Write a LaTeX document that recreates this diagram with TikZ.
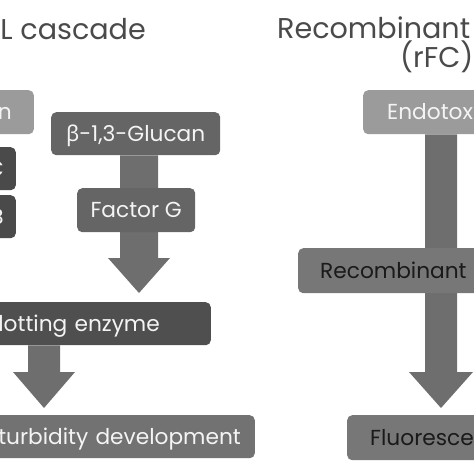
\documentclass[tikz,border=0pt]{standalone}
\usepackage{fontspec}
\setmainfont{Poppins}
\newfontfamily\grk{Noto Sans}
\usetikzlibrary{calc}
\definecolor{titlec}{HTML}{4A4A4A}
\definecolor{lightc}{HTML}{9B9B9B}
\definecolor{midc}{HTML}{656565}
\definecolor{darkc}{HTML}{4A4A4A}
\definecolor{clotc}{HTML}{4F4F4F}
\definecolor{turbc}{HTML}{727272}
\definecolor{greyc}{HTML}{777777}
\definecolor{arrowc}{HTML}{6E6E6E}
\definecolor{inkc}{HTML}{1A1A1A}
\definecolor{paperc}{HTML}{F4F4F4}
\begin{document}
\begin{tikzpicture}[x=1pt,y=-1pt,
  title/.style={inner sep=0pt, text=titlec, font=\fontsize{28.6}{34}\selectfont},
  box/.style={rounded corners=5pt, inner ysep=0pt, text height=15.2pt, text depth=0pt,
    minimum height=44pt, font=\fontsize{21.7}{26}\selectfont},
  lightbox/.style={box, fill=lightc, text=paperc},
  midbox/.style={box, fill=midc, text=paperc},
  darkbox/.style={box, fill=darkc, text=paperc},
  clotbox/.style={box, fill=clotc, text=paperc},
  turbbox/.style={box, fill=turbc, text=paperc},
  greybox/.style={box, fill=greyc, text=inkc},
  arrowfill/.style={fill=arrowc}
]
\useasboundingbox (0,0) rectangle (474,474);
\clip (0,0) rectangle (474,474);

% titles
\node[title, anchor=base east] (tl) at (146,39) {LAL cascade};
\node[title, anchor=base west] (tr1) at (277,38) {Recombinant Factor C};
\node[title, anchor=base west] (tr2) at (400,67) {(rFC)};

% box outlines as named nodes (for connector geometry)
\path
 node[box, anchor=north west, inner xsep=0pt, minimum width=169pt, minimum height=43pt] (glucan) at (51,112) {}
 node[box, anchor=north east, inner xsep=51pt, text width=240pt, align=right, minimum height=43pt] (clot) at (211,302) {}
 node[box, anchor=north east, inner xsep=14pt, text width=270pt, align=right, minimum height=43pt] (turb) at (255,415) {}
 node[box, anchor=north west, inner xsep=24pt, text width=150pt, align=left] (rendo) at (363,90) {}
 node[box, anchor=north west, inner xsep=23pt, text width=190pt, align=left, minimum height=45pt] (fluo) at (347,415) {};

% arrows (drawn beneath boxes)
\coordinate (t1) at ($(glucan.south west)+(88,0)$);
\coordinate (b1) at (t1 |- clot.north);
\coordinate (tip1) at ($(b1)+(0,-9)$);
\fill[arrowfill] ($(t1)+(-19,0)$) -- ($(t1)+(19,0)$) -- ($(tip1)+(19,-35)$) -- ($(tip1)+(31,-35)$)
  -- (tip1) -- ($(tip1)+(-31,-35)$) -- ($(tip1)+(-19,-35)$) -- cycle;

\coordinate (t2) at ($(clot.south east)+(-167,0)$);
\coordinate (b2) at (t2 |- turb.north);
\coordinate (tip2) at ($(b2)+(0,-7)$);
\fill[arrowfill] ($(t2)+(-16,0)$) -- ($(t2)+(16,0)$) -- ($(tip2)+(16,-36)$) -- ($(tip2)+(31,-36)$)
  -- (tip2) -- ($(tip2)+(-31,-36)$) -- ($(tip2)+(-16,-36)$) -- cycle;

\coordinate (t3) at ($(rendo.south west)+(78,0)$);
\coordinate (b3) at (t3 |- fluo.north);
\coordinate (tip3) at ($(b3)+(0,-7)$);
\fill[arrowfill] ($(t3)+(-16,0)$) -- ($(t3)+(16,0)$) -- ($(tip3)+(16,-36)$) -- ($(tip3)+(32,-36)$)
  -- (tip3) -- ($(tip3)+(-32,-36)$) -- ($(tip3)+(-16,-36)$) -- cycle;

% boxes with their texts, on top of arrows
\node[lightbox, anchor=north east, inner xsep=22pt, text width=140pt, align=right] (lendoT) at (34,90) {Endotoxin};
\node[darkbox, anchor=north east, inner xsep=12pt, text width=120pt, align=right, minimum height=43pt] (fcT) at (16,147) {Factor C};
\node[darkbox, anchor=north east, inner xsep=12pt, text width=120pt, align=right, minimum height=43pt] (fbT) at (16,195) {Factor B};
\node[midbox, anchor=north west, inner xsep=0pt, minimum width=169pt, minimum height=43pt] (glucanT) at (51,112) {{\grk β}-1,3-Glucan};
\node[midbox, anchor=north west, inner xsep=0pt, minimum width=118pt] (fgT) at (77,188) {Factor G};
\node[clotbox, anchor=north east, inner xsep=51pt, text width=240pt, align=right, minimum height=43pt] (clotT) at (211,302) {Clotting enzyme};
\node[turbbox, anchor=north east, inner xsep=14pt, text width=270pt, align=right, minimum height=43pt] (turbT) at (255,415) {turbidity development};
\node[lightbox, anchor=north west, inner xsep=24pt, text width=150pt, align=left] (rendoT) at (363,90) {Endotoxin};
\node[greybox, anchor=north west, inner xsep=22pt, text width=270pt, align=left, minimum height=45pt] (rfcT) at (298,248) {Recombinant Factor C};
\node[greybox, anchor=north west, inner xsep=23pt, text width=190pt, align=left, minimum height=45pt] (fluoT) at (347,415) {Fluorescence};
\end{tikzpicture}
\end{document}
